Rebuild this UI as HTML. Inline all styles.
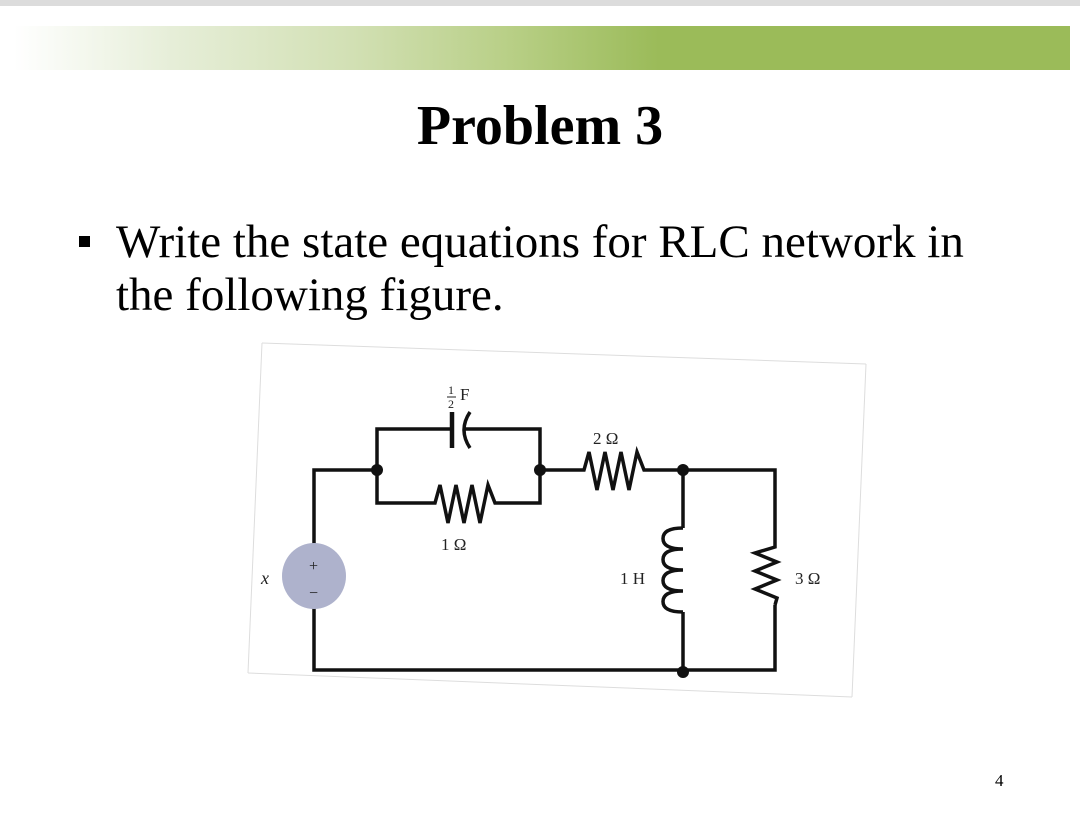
<!DOCTYPE html>
<html><head><meta charset="utf-8"><style>
html,body{margin:0;padding:0;background:#fff}
body{width:1080px;height:840px;position:relative;overflow:hidden;font-family:"Liberation Serif",serif}
.top{position:absolute;left:0;top:0;width:1080px;height:6px;background:#dcdcdc}
.bar{position:absolute;left:14px;top:26px;width:1056px;height:44px;background:linear-gradient(to right,#fff 0%,#e6eed8 15%,#d2e0b4 32%,#b8cf86 47%,#9bbb59 61%,#9bbb59 100%)}
.title{position:absolute;left:0;width:1080px;top:94px;text-align:center;font-weight:bold;font-size:56px;line-height:64px}
.b{position:absolute;left:79px;top:236px;width:11px;height:11px;background:#000}
.t{position:absolute;left:116px;top:216px;font-size:47px;line-height:53px}
.pn{position:absolute;left:995px;top:771px;font-size:17px}
</style></head><body>
<div class="top"></div><div class="bar"></div>
<div class="title">Problem 3</div>
<div class="b"></div>
<div class="t">Write the state equations for RLC network in<br>the following figure.</div>
<svg style="position:absolute;left:0;top:0" width="1080" height="840">
<g stroke="#ddd" stroke-width="1" fill="none">
<line x1="262" y1="343" x2="866" y2="364"/><line x1="866" y1="364" x2="852" y2="697"/>
<line x1="852" y1="697" x2="248" y2="673"/><line x1="248" y1="673" x2="262" y2="343"/>
</g>
<g stroke="#111" stroke-width="3.5" fill="none" stroke-linejoin="miter">
<polyline points="314,544 314,470 377,470"/>
<polyline points="314,608 314,670 775,670 775,605"/>
<polyline points="377,470 377,429 452,429"/>
<polyline points="465,429 540,429 540,470"/>
<line x1="452" y1="412" x2="452" y2="448" stroke-width="4.5"/>
<path d="M470,412 Q458,430 470,448"/>
<polyline points="377,470 377,503 435,503 440,485 448,523 456,485 464,523 472,485 480,523 488,485 495,503 540,503 540,470"/>
<polyline points="540,470 584,470 589,452 597,490 605,452 613,490 621,452 629,490 637,452 644,470 683,470 775,470 775,547 755,553 777,562 755,571 777,580 755,589 777,598 775,605"/>
<polyline points="683,470 683,528"/>
<path d="M683,528 q-20,0 -20,10.5 q0,10.5 20,10.5 q-20,0 -20,10.5 q0,10.5 20,10.5 q-20,0 -20,10.5 q0,10.5 20,10.5 q-20,0 -20,10.5 q0,10.5 20,10.5"/>
<polyline points="683,612 683,672"/>
</g>
<g fill="#111"><circle cx="377" cy="470" r="6"/><circle cx="540" cy="470" r="6"/><circle cx="683" cy="470" r="6"/><circle cx="683" cy="672" r="6"/></g>
<ellipse cx="314" cy="576" rx="32" ry="33" fill="#aeb2cc"/>
<g font-family="Liberation Serif,serif" font-size="17" fill="#222">
<text x="309" y="571" font-size="16">+</text><text x="309" y="598" font-size="16">−</text>
<text x="261" y="584" font-style="italic" font-size="18">x</text>
<text x="448" y="394" font-size="12">1</text><line x1="447" y1="397" x2="456" y2="397" stroke="#222" stroke-width="1"/><text x="448" y="408" font-size="12">2</text>
<text x="460" y="400" font-size="17">F</text>
<text x="593" y="444">2 Ω</text>
<text x="441" y="550">1 Ω</text>
<text x="620" y="584">1 H</text>
<text x="795" y="584">3 Ω</text>
</g>
</svg>
<div class="pn">4</div>
</body></html>
